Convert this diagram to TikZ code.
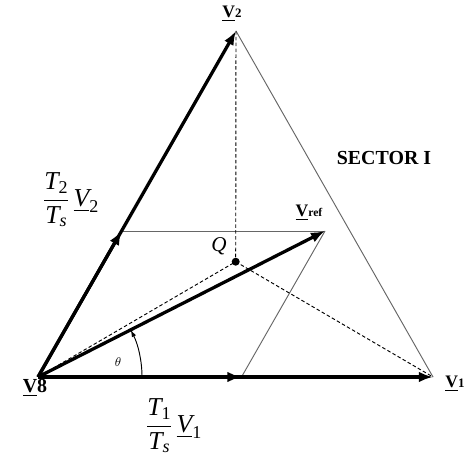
\documentclass[tikz,border=0pt]{standalone}
\usepackage{amsmath}
\usepackage{fontspec}
\setmainfont{Liberation Serif}
\usetikzlibrary{arrows.meta}
\tikzset{
  vec/.style={line width=2.8pt,-{Latex[length=12pt,width=9pt]}},
  thin gray/.style={line width=0.8pt,draw=black!60},
  dashline/.style={line width=0.8pt,dash pattern=on 3pt off 2pt},
  lab/.style={inner sep=0pt,font=\bfseries\fontsize{15}{17}\selectfont},
}
\begin{document}
\begin{tikzpicture}[x=0.03cm,y=0.03cm]
\useasboundingbox (0,0) rectangle (474,474);
\fill[white] (0,0) rectangle (474,474);
% points
\coordinate (O) at (38,97);
\coordinate (A1) at (433,97);
\coordinate (A2) at (236,443);
\coordinate (Q) at (235.7,212.3);
\coordinate (P2) at (121.5,243);
\coordinate (P1) at (241.5,97);
\coordinate (R) at (325,243);
% thin lines
\draw[thin gray] (A2) -- (A1);
\draw[thin gray] (P2) -- (R);
\draw[thin gray] (P1) -- (R);
% dashed
\draw[dashline] (A2) -- (Q);
\draw[dashline] (O) -- (Q);
\draw[dashline] (Q) -- (A1);
% thick vectors
\draw[vec] (O) -- (A1);
\draw[vec] (O) -- (P1);
\draw[vec] (O) -- (A2);
\draw[vec] (O) -- (P2);
\draw[vec] (O) -- (R);
% angle
\draw[line width=0.8pt,-{Latex[length=6pt,width=4pt]}] ([xshift=104*0.03cm]O) arc[start angle=0,end angle=26.9,radius=104];
\node[font=\fontsize{11}{12}\selectfont] (th) at (118,112) {$\theta$};
% Q dot
\fill (Q) circle[radius=4];
\node[font=\itshape\fontsize{18}{20}\selectfont] (ql) at (219,228) {Q};
% labels
\node[lab] (v2) at (232,460) {\underline{V}{\fontsize{11}{12}\selectfont 2}};
\node[lab] (v1) at (455,90) {\underline{V}{\fontsize{11}{12}\selectfont 1}};
\node[lab,font=\bfseries\fontsize{17}{19}\selectfont] (v8) at (35,86) {\underline{V}8};
\node[lab] (vref) at (309,261) {\underline{V}{\fontsize{10}{12}\selectfont ref}};
\node[font=\bfseries\fontsize{17}{19}\selectfont] (sec) at (384,316) {SECTOR I};
\node[font=\fontsize{22}{24}\selectfont] (f2) at (71,274) {$\dfrac{\textit{T}_{\textrm{2}}}{\textit{T}_{\textit{s}}}\,\underline{\textit{V}}_{\textrm{2}}$};
\node[font=\fontsize{22}{24}\selectfont] (f1) at (174,48) {$\dfrac{\textit{T}_{\textrm{1}}}{\textit{T}_{\textit{s}}}\,\underline{\textit{V}}_{\textrm{1}}$};
\end{tikzpicture}
\end{document}
